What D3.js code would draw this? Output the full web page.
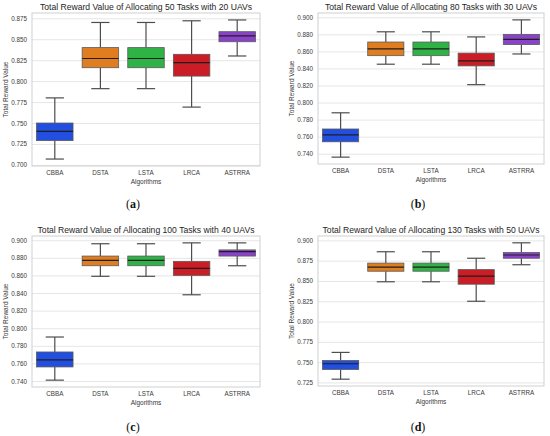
<!DOCTYPE html>
<html>
<head>
<meta charset="utf-8">
<script src="https://cdn.jsdelivr.net/npm/d3@7"></script>
<style>
  body { margin: 0; background: #fff; }
  svg { font-family: "Liberation Sans", Arial, sans-serif; }
</style>
</head>
<body>
<svg id="chart" width="550" height="436"></svg>
<script>
// categories and colours (seaborn "bright", desaturated)
const algorithms = ["CBBA", "DSTA", "LSTA", "LRCA", "ASTRRA"];
const colors = ["#224fdf", "#df7d20", "#30b346", "#cb1d25", "#8a42cb"];

// box stats per algorithm: [whisker low, q1, median, q3, whisker high]
const stats50 = [
  [0.707, 0.729, 0.740, 0.750, 0.780],
  [0.791, 0.816, 0.827, 0.840, 0.870],
  [0.791, 0.816, 0.827, 0.840, 0.870],
  [0.769, 0.806, 0.822, 0.832, 0.872],
  [0.830, 0.847, 0.854, 0.859, 0.873]
];
const stats80 = [
  [0.736, 0.754, 0.762, 0.769, 0.788],
  [0.845, 0.855, 0.863, 0.871, 0.883],
  [0.845, 0.855, 0.863, 0.871, 0.883],
  [0.821, 0.843, 0.849, 0.858, 0.877],
  [0.857, 0.868, 0.874, 0.880, 0.897]
];
const stats100 = [
  [0.741, 0.756, 0.764, 0.773, 0.790],
  [0.859, 0.871, 0.877, 0.882, 0.896],
  [0.859, 0.871, 0.877, 0.882, 0.896],
  [0.838, 0.860, 0.868, 0.876, 0.897],
  [0.871, 0.882, 0.887, 0.889, 0.897]
];
const stats130 = [
  [0.729, 0.741, 0.748, 0.752, 0.762],
  [0.849, 0.862, 0.867, 0.872, 0.886],
  [0.849, 0.862, 0.867, 0.872, 0.886],
  [0.825, 0.846, 0.856, 0.864, 0.878],
  [0.870, 0.878, 0.882, 0.885, 0.897]
];

// y tick labels
const ticks50 = [0.700, 0.725, 0.750, 0.775, 0.800, 0.825, 0.850, 0.875];
const ticks80 = [0.740, 0.760, 0.780, 0.800, 0.820, 0.840, 0.860, 0.880, 0.900];
const ticks100 = [0.740, 0.760, 0.780, 0.800, 0.820, 0.840, 0.860, 0.880, 0.900];
const ticks130 = [0.725, 0.750, 0.775, 0.800, 0.825, 0.850, 0.875, 0.900];

const titles = [
  "Total Reward Value of Allocating 50 Tasks with 20 UAVs",
  "Total Reward Value of Allocating 80 Tasks with 30 UAVs",
  "Total Reward Value of Allocating 100 Tasks with 40 UAVs",
  "Total Reward Value of Allocating 130 Tasks with 50 UAVs"
];
const captions = ["a", "b", "c", "d"];

const svg = d3.select("#chart");

const panels = [
  { stats: stats50, ticks: ticks50, frame: { x0: 32, y0: 13, x1: 260, y1: 166 }, capX: 133, capY: 208 },
  { stats: stats80, ticks: ticks80, frame: { x0: 318, y0: 13, x1: 544, y1: 164 }, capX: 418, capY: 208 },
  { stats: stats100, ticks: ticks100, frame: { x0: 32, y0: 236, x1: 260, y1: 387 }, capX: 133, capY: 431 },
  { stats: stats130, ticks: ticks130, frame: { x0: 318, y0: 236, x1: 544, y1: 386 }, capX: 418, capY: 431 }
];

panels.forEach((p, i) => drawPanel(p, titles[i], captions[i]));

function drawPanel(p, title, caption) {
  const f = p.frame;
  const w = f.x1 - f.x0;
  const h = f.y1 - f.y0;

  // matplotlib-style 5% margins around the data
  const lo = d3.min(p.stats, d => d[0]);
  const hi = d3.max(p.stats, d => d[4]);
  const pad = (hi - lo) * 0.05;

  const y = d3.scaleLinear().domain([lo - pad, hi + pad]).range([h, 0]);
  const x = d3.scaleBand().domain(algorithms).range([0, w]).padding(0);

  const g = svg.append("g").attr("transform", `translate(${f.x0},${f.y0})`);

  // y axis with grid lines
  const yAxis = d3.axisLeft(y)
    .tickValues(p.ticks)
    .tickSize(-w)
    .tickPadding(5)
    .tickFormat(d3.format(".3f"));

  const ya = g.append("g").call(yAxis);
  ya.select(".domain").remove();
  ya.selectAll("line").attr("stroke", "#e6e6e6").attr("stroke-width", 1);
  ya.selectAll("text").attr("fill", "#3a3a3a").style("font-size", "6.3px");

  // x axis
  const xa = g.append("g")
    .attr("transform", `translate(0,${h})`)
    .call(d3.axisBottom(x).tickSize(0).tickPadding(5));
  xa.select(".domain").remove();
  xa.selectAll("text").attr("fill", "#3a3a3a").style("font-size", "6.3px");

  // boxes
  const bw = x.bandwidth() * 0.8;
  const boxes = g.selectAll(".box")
    .data(p.stats)
    .enter().append("g")
    .attr("class", "box")
    .attr("transform", (d, j) => `translate(${x(algorithms[j]) + x.bandwidth() / 2},0)`);

  // whiskers
  boxes.append("line")
    .attr("x1", 0).attr("x2", 0)
    .attr("y1", d => y(d[0])).attr("y2", d => y(d[1]))
    .attr("stroke", "#4d4d4d").attr("stroke-width", 1.2);
  boxes.append("line")
    .attr("x1", 0).attr("x2", 0)
    .attr("y1", d => y(d[3])).attr("y2", d => y(d[4]))
    .attr("stroke", "#4d4d4d").attr("stroke-width", 1.2);

  // caps
  [0, 4].forEach(k => {
    boxes.append("line")
      .attr("x1", -bw / 4).attr("x2", bw / 4)
      .attr("y1", d => y(d[k])).attr("y2", d => y(d[k]))
      .attr("stroke", "#4d4d4d").attr("stroke-width", 1.2);
  });

  boxes.append("rect")
    .attr("x", -bw / 2)
    .attr("width", bw)
    .attr("y", d => y(d[3]))
    .attr("height", d => y(d[1]) - y(d[3]))
    .attr("fill", (d, j) => colors[j])
    .attr("stroke", "#5a5a5a")
    .attr("stroke-width", 0.8);

  // median
  boxes.append("line")
    .attr("x1", -bw / 2).attr("x2", bw / 2)
    .attr("y1", d => y(d[2])).attr("y2", d => y(d[2]))
    .attr("stroke", "#1f1f1f").attr("stroke-width", 1.2);

  // frame
  g.append("rect")
    .attr("width", w).attr("height", h)
    .attr("fill", "none")
    .attr("stroke", "#d0d0d0")
    .attr("stroke-width", 1);

  // title
  g.append("text")
    .attr("x", w / 2).attr("y", -3)
    .attr("text-anchor", "middle")
    .attr("fill", "#262626")
    .style("font-size", "8.6px")
    .text(title);

  // axis labels
  g.append("text")
    .attr("x", w / 2).attr("y", h + 17.5)
    .attr("text-anchor", "middle")
    .attr("fill", "#3a3a3a")
    .style("font-size", "6.5px")
    .text("Algorithms");

  g.append("text")
    .attr("transform", `translate(-24,${h / 2}) rotate(-90)`)
    .attr("text-anchor", "middle")
    .attr("fill", "#3a3a3a")
    .style("font-size", "6.5px")
    .text("Total Reward Value");

  // sub-figure caption, e.g. (a)
  const cap = svg.append("text")
    .attr("x", p.capX).attr("y", p.capY)
    .attr("text-anchor", "middle")
    .attr("fill", "#111")
    .style("font-family", "'Liberation Serif', 'DejaVu Serif', serif")
    .style("font-size", "12px");
  cap.append("tspan").text("(");
  cap.append("tspan").style("font-weight", "bold").text(caption);
  cap.append("tspan").text(")");
}
</script>
</body>
</html>
